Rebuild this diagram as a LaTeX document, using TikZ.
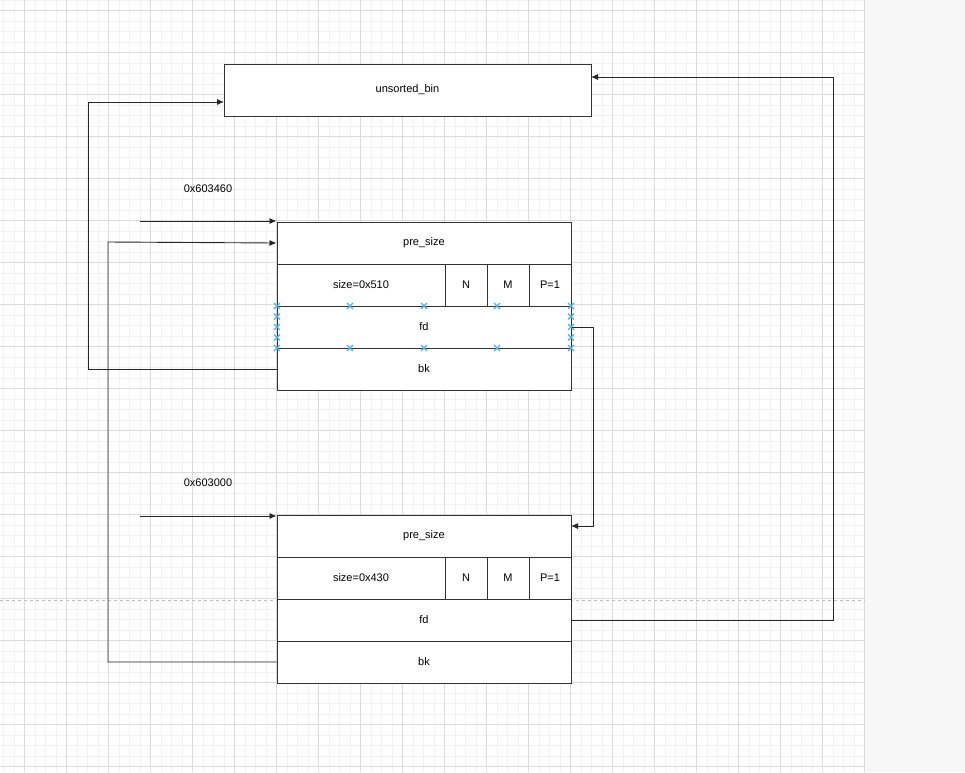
\documentclass[tikz,border=0pt]{standalone}
\usepackage{fontspec}
\setmainfont{Liberation Sans}
\usetikzlibrary{arrows.meta}
\begin{document}
\begin{tikzpicture}[x=1pt,y=-1pt,
  cell/.style={draw=black!80,line width=1pt,fill=white,inner sep=0pt},
  lbl/.style={font=\fontsize{11}{12}\selectfont},
  conn/.style={draw=black!85,line width=0.9pt},
  arr/.style={conn,-{Latex[length=7pt,width=6pt]}},
  mk/.style={draw=cyan!80!blue!70,line width=1.1pt}]
\useasboundingbox (0,0) rectangle (965,772);
\fill[white] (0,0) rectangle (965,772);
\fill[black!3] (865,0) rectangle (965,772);
\foreach \i in {0,...,82} {\draw[black!5,line width=0.5pt] ({24.6+10.5*(\i-2)},0) -- ({24.6+10.5*(\i-2)},772);}
\foreach \i in {0,...,73} {\draw[black!5,line width=0.5pt] (0,{10.5*\i}) -- (865,{10.5*\i});}
\foreach \i in {0,...,20} {\draw[black!14,line width=0.8pt] ({24.6+42*\i},0) -- ({24.6+42*\i},772);}
\foreach \i in {0,...,18} {\draw[black!14,line width=0.8pt] (0,{10.5+42*\i}) -- (865,{10.5+42*\i});}
\draw[black!25,dashed,line width=1pt] (0,600) -- (865,600);

\node[cell,minimum width=367pt,minimum height=52pt,lbl] (ub) at (407.5,90) {unsorted\_bin};

% chunk 1
\node[cell,minimum width=294pt,minimum height=42pt,lbl] (p1) at (424,243) {pre\_size};
\node[cell,minimum width=168pt,minimum height=42pt,lbl] (s1) at (361,285) {size=0x510};
\node[cell,minimum width=42pt,minimum height=42pt,lbl] (n1) at (466,285) {N};
\node[cell,minimum width=42pt,minimum height=42pt,lbl] (m1) at (508,285) {M};
\node[cell,minimum width=42pt,minimum height=42pt,lbl] (pp1) at (550,285) {P=1};
\node[cell,minimum width=294pt,minimum height=42pt,lbl] (f1) at (424,327) {fd};
\node[cell,minimum width=294pt,minimum height=42pt,lbl] (b1) at (424,369) {bk};
\foreach \x/\y in {277/306,350/306,424/306,497/306,571/306,277/348,350/348,424/348,497/348,571/348,277/316.5,277/327,277/337.5,571/316.5,571/327,571/337.5}
  {\draw[mk] (\x-3,\y-3) -- (\x+3,\y+3) (\x-3,\y+3) -- (\x+3,\y-3);}

% chunk 2
\node[cell,minimum width=294pt,minimum height=42pt,lbl] (p2) at (424,536) {pre\_size};
\node[cell,minimum width=168pt,minimum height=42pt,lbl] (s2) at (361,578) {size=0x430};
\node[cell,minimum width=42pt,minimum height=42pt,lbl] (n2) at (466,578) {N};
\node[cell,minimum width=42pt,minimum height=42pt,lbl] (m2) at (508,578) {M};
\node[cell,minimum width=42pt,minimum height=42pt,lbl] (pp2) at (550,578) {P=1};
\node[cell,minimum width=294pt,minimum height=42pt,lbl] (f2) at (424,620) {fd};
\node[cell,minimum width=294pt,minimum height=42pt,lbl] (b2) at (424,662) {bk};

\node[lbl] (a1) at (208,189) {0x603460};
\node[lbl] (a2) at (208,483) {0x603000};
\coordinate (s1a) at (140,221);
\coordinate (s2a) at (140,516);
\draw[arr] (s1a) -- (s1a -| p1.west);
\draw[arr] (s2a) -- (s2a -| p2.west);

\draw[arr] (b1.west) -- (88,369) -- (88,102) -- (224,102);
\draw[arr] (b2.west) -- (108,662) -- (108,242) -- (p1.west);
\draw[arr] (f1.east) -- (593,327) -- (593,526) -- (571,526);
\draw[arr] (f2.east) -- (833,620) -- (833,77) -- (591,77);
\end{tikzpicture}
\end{document}
